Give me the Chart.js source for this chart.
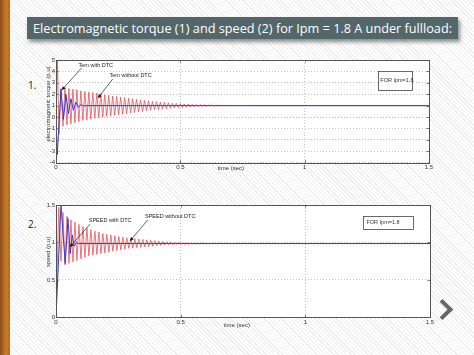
<!DOCTYPE html>
<html><head><meta charset="utf-8">
<script src="https://cdn.jsdelivr.net/npm/chart.js@4.4.1/dist/chart.umd.min.js"></script>
<style>
html,body{margin:0;padding:0;width:474px;height:355px;overflow:hidden;}
body{position:relative;background:repeating-linear-gradient(45deg,#ffffff 0px,#ffffff 2px,#eeeeee 2px,#eeeeee 3px);font-family:'Liberation Sans',Arial,sans-serif;}
#bar{position:absolute;left:0;top:0;width:10px;height:355px;background:linear-gradient(to right,#8f4c14,#c97d2c 60%,#b56822);}
#banner{position:absolute;left:27px;top:17px;width:431px;height:22px;background:#53666a;box-shadow:2px 3px 4px rgba(0,0,0,0.45);}
#title{position:absolute;left:33px;top:19px;white-space:nowrap;color:#fff;font-family:'Open Sans','Noto Sans',sans-serif;font-size:13px;line-height:18px;transform-origin:0 0;}
.num{position:absolute;font-family:'Open Sans','Noto Sans',sans-serif;font-size:10px;line-height:12px;color:#222;}
#chev{position:absolute;left:435px;top:302px;width:11px;height:11px;border-top:4px solid #666;border-right:4px solid #666;transform:rotate(45deg);}
canvas{position:absolute;left:0;}
</style></head>
<body>
<div id="bar"></div>
<div id="banner"></div>
<div id="title">Electromagnetic torque (1) and speed (2) for Ipm = 1.8 A under fullload:</div>
<div class="num" style="left:28px;top:79px;">1.</div>
<div class="num" style="left:28px;top:218px;">2.</div>
<div id="chev"></div>
<canvas id="c1" width="474" height="130" style="top:50px;"></canvas>
<canvas id="c2" width="474" height="137" style="top:195px;"></canvas>
<script>
// ---- tick labels ----
const timeTicks = [0, 0.5, 1, 1.5];
const torqueTicks = [-4, -3, -2, -1, 0, 1, 2, 3, 4, 5];
const speedTicks = [0, 0.5, 1, 1.5];

// ---- electromagnetic torque, with DTC ----
const torqueTimeDTC = [0, 0.005, 0.02, 0.03, 0.04, 0.05, 0.06, 0.07, 0.08, 0.09, 0.1, 0.11, 0.12, 1.5];
const torqueDTC     = [0, -3.3, 2.4, -0.2, 2.0, 0.3, 1.6, 0.6, 1.3, 0.85, 1.1, 0.97, 1.0, 1.0];

// ---- electromagnetic torque, without DTC ----
const torqueTimeNoDTC = [0, 0.006, 0.012, 0.02, 0.028, 0.036, 0.044, 0.052, 0.06, 0.068, 0.076, 0.084, 0.092, 0.1, 0.108, 0.116, 0.124, 0.132, 0.14, 0.148, 0.156, 0.164, 0.172, 0.18, 0.188, 0.196, 0.204, 0.212, 0.22, 0.228, 0.236, 0.244, 0.252, 0.26, 0.268, 0.276, 0.284, 0.292, 0.3, 0.308, 0.316, 0.324, 0.332, 0.34, 0.348, 0.356, 0.364, 0.372, 0.38, 0.388, 0.396, 0.404, 0.412, 0.42, 0.428, 0.436, 0.444, 0.452, 0.46, 0.468, 0.476, 0.484, 0.492, 0.5, 0.508, 0.516, 0.524, 0.532, 0.54, 0.548, 0.556, 0.564, 0.572, 0.58, 0.588, 0.596, 0.604, 0.612, 0.62, 0.628, 0.636, 0.644, 0.652, 0.66, 0.668, 0.676, 0.684, 0.692, 0.7, 0.708, 0.716, 0.724, 0.732, 0.74, 0.75, 1.5];
const torqueNoDTC     = [0, 5, -1.5, 2.5, -0.8, 2.6, -0.7, 2.5, -0.6, 2.45, -0.5, 2.4, -0.4, 2.3, -0.3, 2.25, -0.25, 2.2, -0.2, 2.15, -0.1, 2.1, -0.05, 2.05, 0.0, 1.95, 0.05, 1.9, 0.1, 1.85, 0.15, 1.8, 0.2, 1.75, 0.25, 1.7, 0.3, 1.65, 0.35, 1.6, 0.4, 1.55, 0.45, 1.5, 0.5, 1.45, 0.55, 1.42, 0.6, 1.38, 0.63, 1.35, 0.67, 1.32, 0.7, 1.28, 0.73, 1.25, 0.76, 1.22, 0.79, 1.2, 0.82, 1.17, 0.84, 1.15, 0.86, 1.13, 0.88, 1.11, 0.9, 1.09, 0.92, 1.08, 0.93, 1.07, 0.94, 1.06, 0.95, 1.05, 0.96, 1.04, 0.97, 1.03, 0.975, 1.025, 0.98, 1.02, 0.985, 1.015, 0.99, 1.01, 0.99, 1.01, 1.0, 1.0];

// ---- speed, with DTC ----
const speedTimeDTC = [0, 0.02, 0.037, 0.048, 0.057, 0.065, 0.073, 0.082, 0.09, 1.5];
const speedDTC     = [0, 1.5, 0.72, 1.32, 0.85, 1.1, 0.95, 1.0, 0.985, 0.985];

// ---- speed, without DTC ----
const speedTimeNoDTC = [0, 0.011, 0.02, 0.028, 0.036, 0.044, 0.052, 0.06, 0.068, 0.076, 0.084, 0.092, 0.1, 0.108, 0.116, 0.124, 0.132, 0.14, 0.148, 0.156, 0.164, 0.172, 0.18, 0.188, 0.196, 0.204, 0.212, 0.22, 0.228, 0.236, 0.244, 0.252, 0.26, 0.268, 0.276, 0.284, 0.292, 0.3, 0.308, 0.316, 0.324, 0.332, 0.34, 0.348, 0.356, 0.364, 0.372, 0.38, 0.388, 0.396, 0.404, 0.412, 0.42, 0.428, 0.436, 0.444, 0.452, 0.46, 0.468, 0.476, 0.484, 0.492, 0.5, 0.508, 0.516, 0.524, 0.532, 0.54, 0.548, 0.556, 0.564, 0.58, 1.5];
const speedNoDTC     = [0, 1.47, 0.75, 1.4, 0.7, 1.35, 0.72, 1.3, 0.74, 1.27, 0.76, 1.24, 0.78, 1.21, 0.8, 1.19, 0.82, 1.17, 0.83, 1.15, 0.84, 1.14, 0.85, 1.12, 0.86, 1.11, 0.87, 1.1, 0.88, 1.09, 0.89, 1.08, 0.9, 1.07, 0.91, 1.06, 0.92, 1.055, 0.925, 1.05, 0.93, 1.045, 0.935, 1.04, 0.94, 1.035, 0.945, 1.03, 0.95, 1.025, 0.955, 1.02, 0.96, 1.015, 0.965, 1.01, 0.97, 1.005, 0.972, 1.0, 0.975, 0.997, 0.977, 0.995, 0.978, 0.993, 0.98, 0.99, 0.981, 0.988, 0.983, 0.985, 0.985];

function pts(xs, ys){ return xs.map((x,i)=>({x:x, y:ys[i]})); }

const RED = '#e2545b', BLUE = '#3c3cc4';
const FONT = "'Liberation Sans', Arial, sans-serif";

const deco = {
  id: 'deco',
  beforeDraw(c){
    const a=c.chartArea, ctx=c.ctx;
    ctx.save(); ctx.fillStyle='#fff';
    ctx.fillRect(a.left,a.top,a.right-a.left,a.bottom-a.top);
    ctx.restore();
  },
  afterDraw(c, args, o){
    const a=c.chartArea, ctx=c.ctx, xs=c.scales.x, ys=c.scales.y;
    ctx.save();
    // inward tick marks
    ctx.strokeStyle='#555'; ctx.lineWidth=0.8;
    ys.ticks.forEach(t=>{const y=Math.round(ys.getPixelForValue(t.value))+0.5;
      ctx.beginPath();ctx.moveTo(a.left,y);ctx.lineTo(a.left+2.5,y);ctx.moveTo(a.right,y);ctx.lineTo(a.right-2.5,y);ctx.stroke();});
    xs.ticks.forEach(t=>{const x=Math.round(xs.getPixelForValue(t.value))+0.5;
      ctx.beginPath();ctx.moveTo(x,a.bottom);ctx.lineTo(x,a.bottom-2.5);ctx.moveTo(x,a.top);ctx.lineTo(x,a.top+2.5);ctx.stroke();});
    // axes box
    ctx.strokeStyle='#555'; ctx.lineWidth=1;
    ctx.strokeRect(Math.round(a.left)+0.5, Math.round(a.top)+0.5, Math.round(a.right-a.left), Math.round(a.bottom-a.top));
    // axis titles
    ctx.fillStyle='#333'; ctx.font='6px '+FONT; ctx.textAlign='center'; ctx.textBaseline='middle';
    ctx.fillText(o.xTitle, xs.getPixelForValue(o.xTitleAt), a.bottom+o.xTitleDy);
    ctx.save(); ctx.translate(a.left-8, ys.getPixelForValue(o.yTitleAt)); ctx.rotate(-Math.PI/2);
    ctx.fillText(o.yTitle, 0, 0); ctx.restore();
    // legend box
    const b=o.box;
    const bx0=xs.getPixelForValue(b.t0), bx1=xs.getPixelForValue(b.t1), by0=ys.getPixelForValue(b.v0), by1=ys.getPixelForValue(b.v1);
    ctx.fillStyle='#fff'; ctx.fillRect(bx0,by0,bx1-bx0,by1-by0);
    ctx.strokeStyle='#444'; ctx.lineWidth=0.8; ctx.strokeRect(Math.round(bx0)+0.5,Math.round(by0)+0.5,Math.round(bx1-bx0),Math.round(by1-by0));
    ctx.fillStyle='#333'; ctx.font='5.5px '+FONT; ctx.textAlign='left';
    ctx.fillText(b.text, bx0+b.pad, (by0+by1)/2);
    // annotations with arrows
    o.notes.forEach(n=>{
      ctx.fillStyle='#222'; ctx.font='5.5px '+FONT; ctx.textAlign='center';
      ctx.fillText(n.text, xs.getPixelForValue(n.tx), ys.getPixelForValue(n.ty));
      const x1=xs.getPixelForValue(n.t1), y1=ys.getPixelForValue(n.v1), x2=xs.getPixelForValue(n.t2), y2=ys.getPixelForValue(n.v2);
      ctx.strokeStyle='#222'; ctx.lineWidth=0.7;
      ctx.beginPath(); ctx.moveTo(x1,y1); ctx.lineTo(x2,y2); ctx.stroke();
      const ang=Math.atan2(y2-y1,x2-x1), L=4, W=0.45;
      ctx.beginPath(); ctx.moveTo(x2,y2);
      ctx.lineTo(x2-L*Math.cos(ang-W), y2-L*Math.sin(ang-W));
      ctx.lineTo(x2-L*Math.cos(ang+W), y2-L*Math.sin(ang+W));
      ctx.closePath(); ctx.fillStyle='#111'; ctx.fill();
    });
    ctx.restore();
  }
};

function makeChart(id, datasets, yTicks, yMin, yMax, pad, decoOpts){
  return new Chart(document.getElementById(id), {
    type: 'line',
    data: { datasets: datasets },
    options: {
      responsive:false, animation:false, devicePixelRatio:1,
      layout:{ padding: pad },
      plugins:{ legend:{display:false}, tooltip:{enabled:false}, deco: decoOpts },
      elements:{ point:{radius:0}, line:{tension:0} },
      scales:{
        x:{ type:'linear', min:0, max:1.5,
            afterBuildTicks:s=>{ s.ticks = timeTicks.map(v=>({value:v})); },
            afterFit:s=>{ s.height = 12; },
            ticks:{ font:{size:6, family:FONT}, color:'#333', padding:1.5, maxRotation:0, callback:v=>String(v) },
            grid:{ color:'#b4b4b4', lineWidth:0.8, drawTicks:false },
            border:{ display:false, dash:[1,2] } },
        y:{ type:'linear', min:yMin, max:yMax,
            afterBuildTicks:s=>{ s.ticks = yTicks.map(v=>({value:v})); },
            afterFit:s=>{ s.width = 20; },
            ticks:{ font:{size:6, family:FONT}, color:'#333', padding:1, callback:v=>String(v) },
            grid:{ color:'#b4b4b4', lineWidth:0.8, drawTicks:false },
            border:{ display:false, dash:[1,2] } }
      }
    },
    plugins:[deco]
  });
}

makeChart('c1', [
  { label:'Tem with DTC', data: pts(torqueTimeDTC, torqueDTC), borderColor: BLUE, borderWidth: 1 },
  { label:'Tem without DTC', data: pts(torqueTimeNoDTC, torqueNoDTC), borderColor: RED, borderWidth: 0.8 }
], torqueTicks, -4, 5, {left:36, right:45, top:10, bottom:5.3}, {
  xTitle:'time (sec)', xTitleAt:0.703, xTitleDy:5.6,
  yTitle:'electromagnetic torque (p.u)', yTitleAt:1.14,
  box:{ text:'FOR Ipm=1.8', t0:1.296, t1:1.432, v0:4.06, v1:2.43, pad:2 },
  notes:[
    { text:'Tem with DTC', tx:0.16, ty:4.56, t1:0.103, v1:4.3, t2:0.023, v2:2.37 },
    { text:'Tem without DTC', tx:0.30, ty:3.68, t1:0.228, v1:3.33, t2:0.169, v2:1.67 }
  ]
});

makeChart('c2', [
  { label:'SPEED with DTC', data: pts(speedTimeDTC, speedDTC), borderColor: BLUE, borderWidth: 1 },
  { label:'SPEED without DTC', data: pts(speedTimeNoDTC, speedNoDTC), borderColor: RED, borderWidth: 0.8 }
], speedTicks, 0, 1.5, {left:36, right:44, top:10, bottom:2.7}, {
  xTitle:'time (sec)', xTitleAt:0.725, xTitleDy:7.7,
  yTitle:'speed (p.u)', yTitleAt:0.876,
  box:{ text:'FOR Ipm=1.8', t0:1.233, t1:1.434, v0:1.353, v1:1.18, pad:3 },
  notes:[
    { text:'SPEED with DTC', tx:0.217, ty:1.29, t1:0.137, v1:1.246, t2:0.056, v2:0.94 },
    { text:'SPEED without DTC', tx:0.458, ty:1.34, t1:0.368, v1:1.30, t2:0.297, v2:1.02 }
  ]
});

// fit title text to banner width
(function(){
  const el=document.getElementById('title');
  const w=el.getBoundingClientRect().width;
  if(w>0){ el.style.transform='scaleX('+(419/w)+')'; }
})();
</script>
</body></html>
